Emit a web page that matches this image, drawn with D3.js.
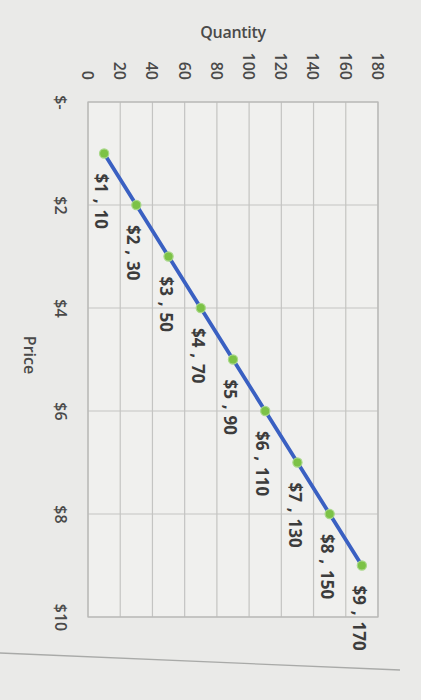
<!DOCTYPE html>
<html>
<head>
<meta charset="utf-8">
<script src="https://cdn.jsdelivr.net/npm/d3@7"></script>
<style>
  html, body { margin: 0; padding: 0; background: #eaeae8; }
  svg { display: block; }
  text { font-family: "Open Sans", "Liberation Sans", sans-serif; }
</style>
</head>
<body>
<svg id="chart" width="421" height="700"></svg>
<script>
// ---- data ----
const prices = [1, 2, 3, 4, 5, 6, 7, 8, 9];
const quantities = [10, 30, 50, 70, 90, 110, 130, 150, 170];
const priceTicks = [0, 2, 4, 6, 8, 10];
const quantityTicks = [0, 20, 40, 60, 80, 100, 120, 140, 160, 180];
const xTitle = "Price";
const yTitle = "Quantity";

const data = prices.map((p, i) => ({ p, q: quantities[i] }));

const svg = d3.select("#chart");

// chart drawn in normal orientation, then rotated 90° clockwise (photo of rotated screen)
const W = 515, H = 290;
const g = svg.append("g").attr("transform", "translate(378,102) rotate(90)");

const x = d3.scaleLinear().domain([0, 10]).range([0, W]);
const y = d3.scaleLinear().domain([0, 180]).range([H, 0]);

// plot area
g.append("rect").attr("x", 0).attr("y", 0).attr("width", W).attr("height", H)
  .attr("fill", "#f0f0ee");

// gridlines
g.append("g").selectAll("line").data(quantityTicks).join("line")
  .attr("x1", 0).attr("x2", W).attr("y1", d => y(d)).attr("y2", d => y(d))
  .attr("stroke", "#c4c4c2").attr("stroke-width", 1.2);
g.append("g").selectAll("line").data(priceTicks).join("line")
  .attr("y1", 0).attr("y2", H).attr("x1", d => x(d)).attr("x2", d => x(d))
  .attr("stroke", "#c4c4c2").attr("stroke-width", 1.2);
g.append("rect").attr("x", 0).attr("y", 0).attr("width", W).attr("height", H)
  .attr("fill", "none").attr("stroke", "#b8b8b6").attr("stroke-width", 1.2);

// axes
const xAxis = g.append("g").attr("transform", `translate(0,${H})`)
  .call(d3.axisBottom(x).tickValues(priceTicks).tickSize(0)
    .tickFormat(d => d === 0 ? "$-" : "$" + d));
xAxis.select(".domain").remove();
xAxis.selectAll("text").attr("y", 27).attr("dy", "0.35em")
  .attr("fill", "#4a4a4a").attr("font-size", 16).attr("font-weight", 600);

const yAxis = g.append("g")
  .call(d3.axisLeft(y).tickValues(quantityTicks).tickSize(0));
yAxis.select(".domain").remove();
yAxis.selectAll("text").attr("x", -22).attr("dy", "0.35em")
  .attr("fill", "#4a4a4a").attr("font-size", 16).attr("font-weight", 600);

// titles
g.append("text").attr("transform", `translate(-70,${H / 2}) rotate(-90)`)
  .attr("text-anchor", "middle").attr("dy", "0.35em")
  .attr("fill", "#4a4a4a").attr("font-size", 16).attr("font-weight", 600)
  .attr("letter-spacing", -0.3)
  .text(yTitle);
g.append("text").attr("x", 253).attr("y", H + 58).attr("dy", "0.35em")
  .attr("text-anchor", "middle")
  .attr("fill", "#4a4a4a").attr("font-size", 16).attr("font-weight", 600)
  .text(xTitle);

// series line
const line = d3.line().x(d => x(d.p)).y(d => y(d.q));
g.append("path").datum(data).attr("d", line)
  .attr("fill", "none").attr("stroke", "#3a60c2").attr("stroke-width", 3.8)
  .attr("stroke-linecap", "round");

// markers
g.append("g").selectAll("circle").data(data).join("circle")
  .attr("cx", d => x(d.p)).attr("cy", d => y(d.q)).attr("r", 4.6)
  .attr("fill", "#7cc246").attr("stroke", "#a9d889").attr("stroke-width", 1.2);

// data labels
g.append("g").selectAll("text").data(data).join("text")
  .attr("x", d => x(d.p) + 20).attr("y", d => y(d.q) + 3).attr("dy", "0.35em")
  .attr("fill", "#3c3c3c").attr("font-size", 17).attr("font-weight", 700)
  .attr("word-spacing", 1.5)
  .text(d => `$${d.p} , ${d.q}`);

// chart border (seen at the bottom of the photo)
svg.append("line").attr("x1", 0).attr("y1", 653).attr("x2", 400).attr("y2", 670)
  .attr("stroke", "#a9aaa8").attr("stroke-width", 1.3);
</script>
</body>
</html>
